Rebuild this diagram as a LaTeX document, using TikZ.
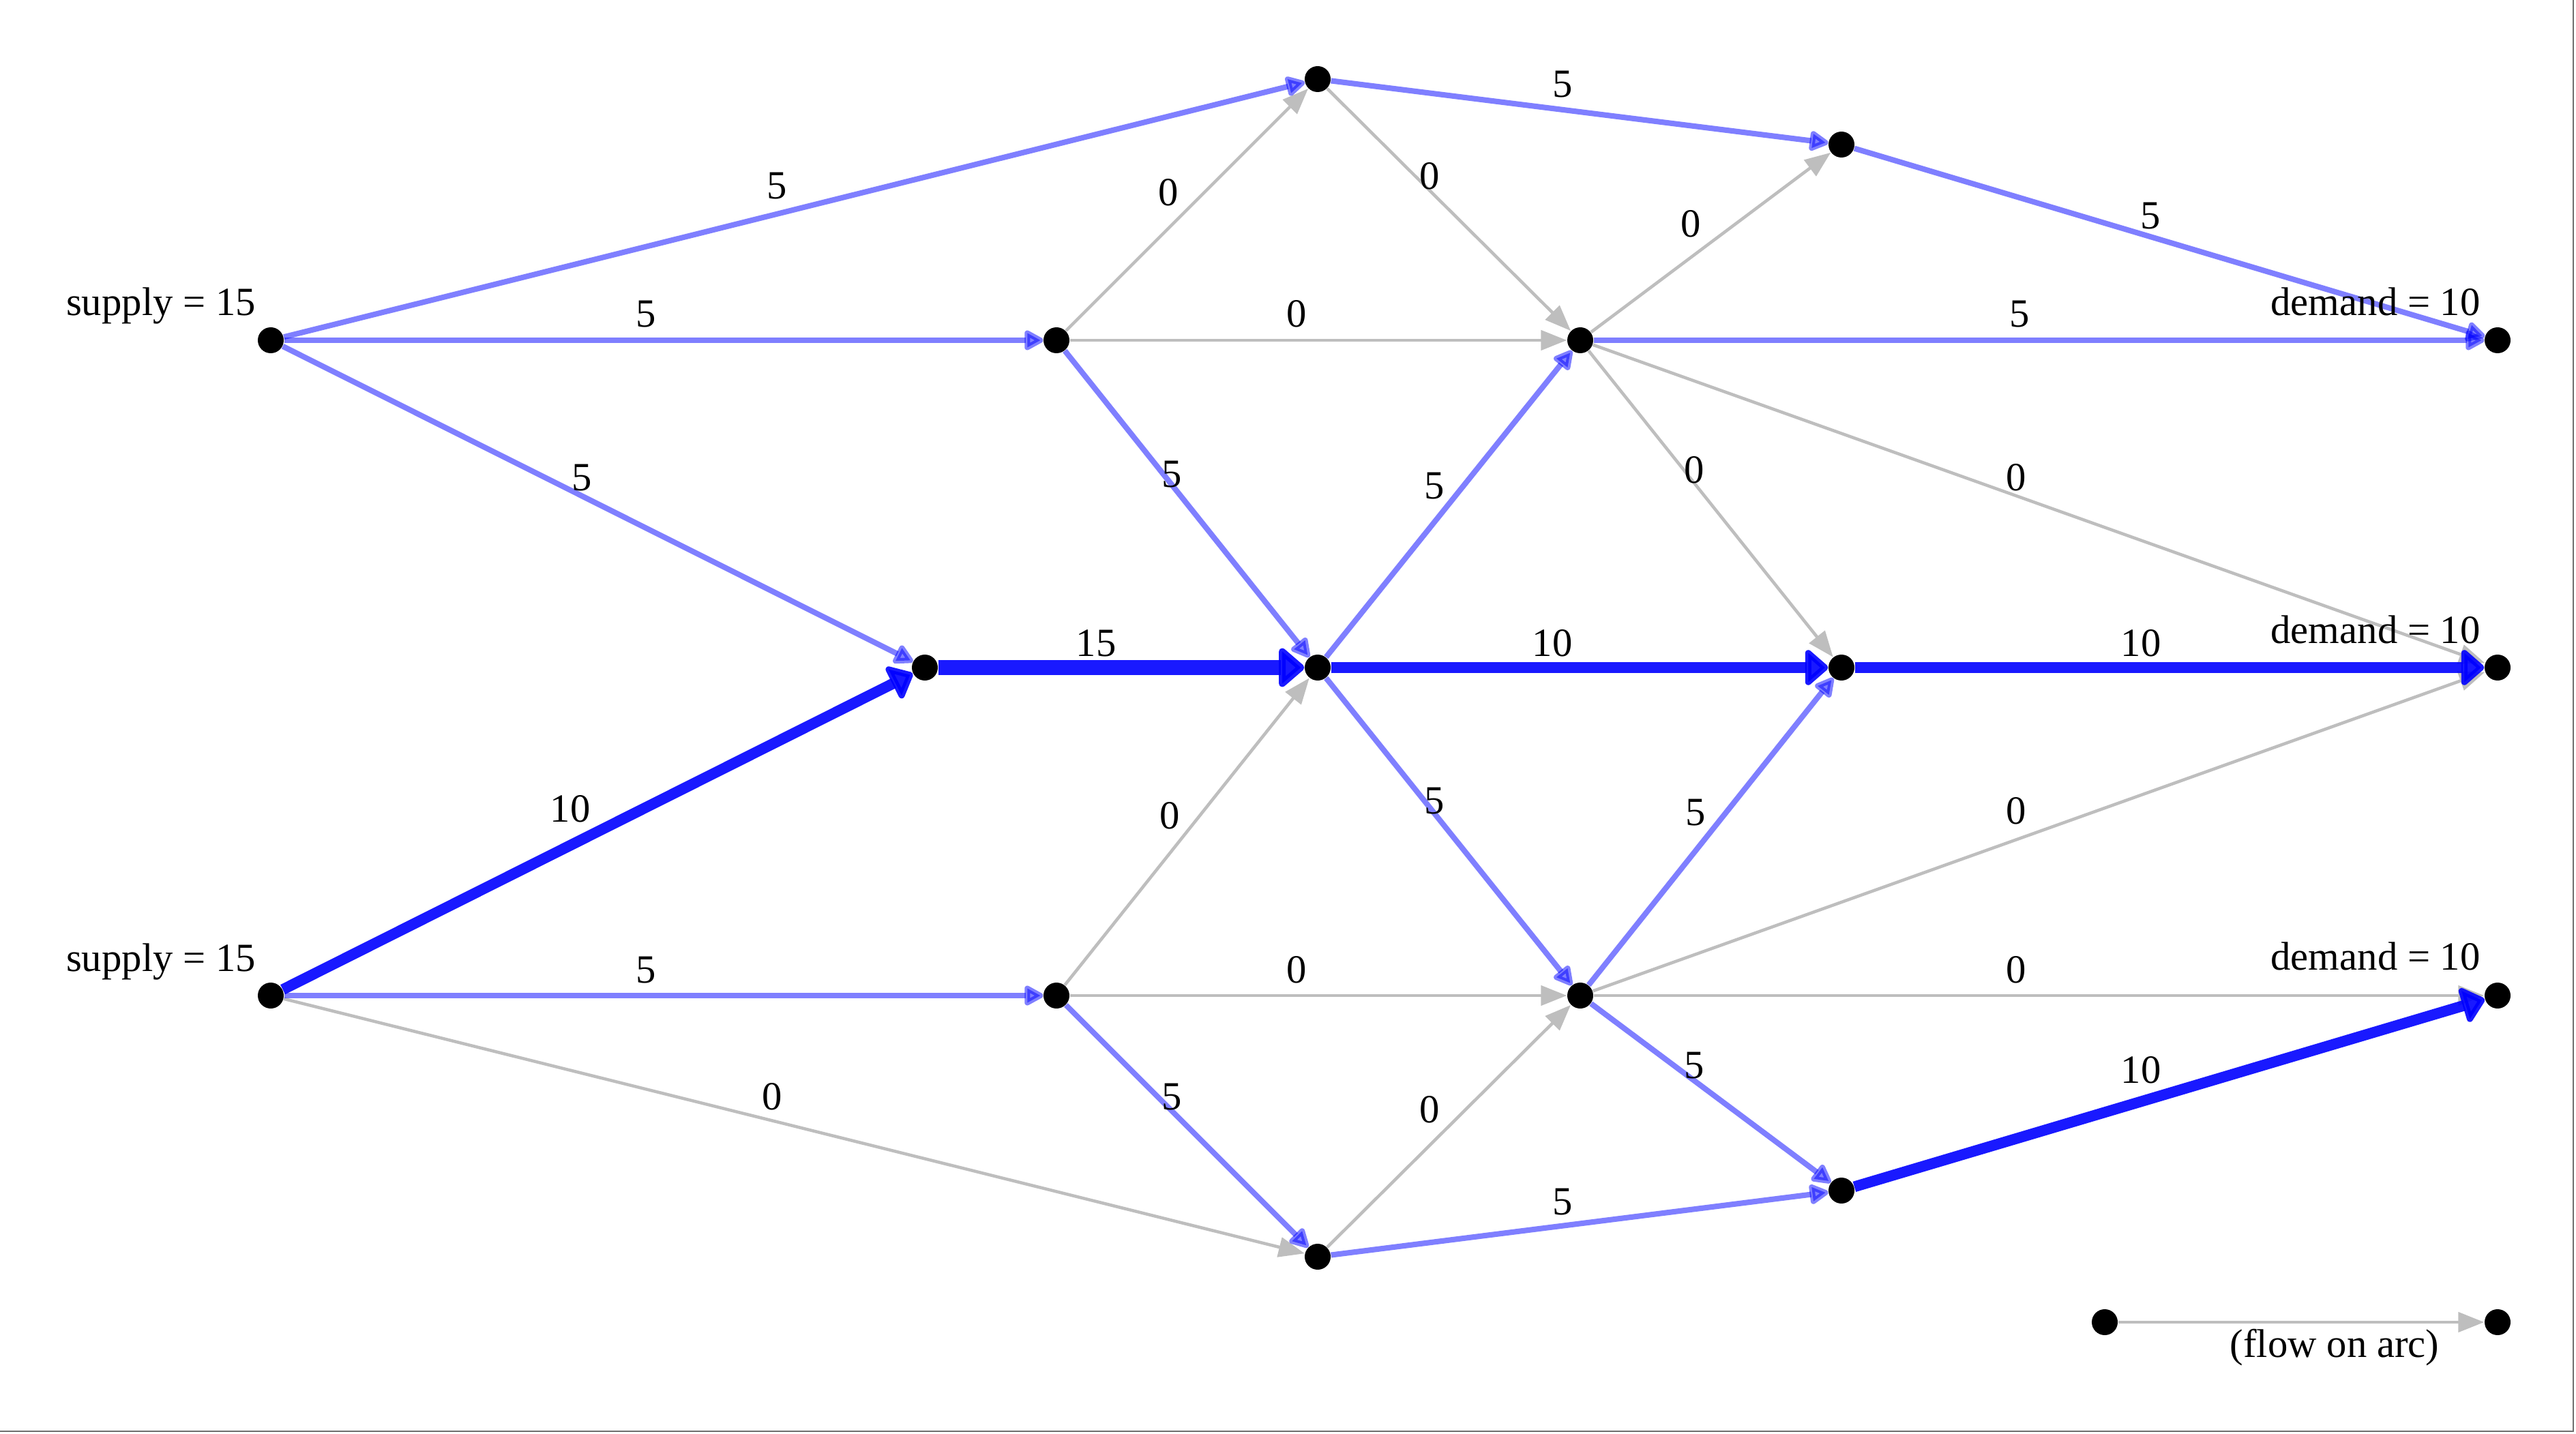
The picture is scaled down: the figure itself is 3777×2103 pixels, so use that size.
\documentclass[tikz,border=0pt]{standalone}
\usepackage{fontspec}
\setmainfont{Liberation Serif}
\usetikzlibrary{arrows.meta,backgrounds}
\definecolor{zgray}{RGB}{190,190,190}
\definecolor{framegray}{RGB}{110,110,110}
\begin{document}
\begin{tikzpicture}[x=0.1mm,y=-0.1mm,
  vtx/.style={circle,fill=black,inner sep=0pt,minimum size=3.8mm},
  lbl/.style={anchor=base,inner sep=0pt,font=\fontsize{16.7}{18}\selectfont},
  fzero/.style={draw=zgray,line width=1.3pt,-{Triangle[length=3.8mm,width=2.9mm]}},
  ffive/.style={draw=blue,opacity=0.5,line width=2.3pt,-{Triangle[round,length=3.2mm,width=3.2mm]}},
  ften/.style={draw=blue,opacity=0.9,line width=4.5pt,-{Triangle[round,length=3.6mm,width=6mm]}},
  ffifteen/.style={draw=blue,opacity=0.9,line width=6.5pt,-{Triangle[round,length=4mm,width=6.6mm]}}]
\useasboundingbox (0,0) rectangle (3777,2103);
\draw[framegray,line width=0.8pt] (3773,0) -- (3773,2099) -- (0,2099);

% vertices
\node[vtx] (S1) at (397,499) {};
\node[vtx] (S2) at (397,1460) {};
\node[vtx] (A) at (1932,116) {};
\node[vtx] (B) at (2700,212) {};
\node[vtx] (C) at (1549,499) {};
\node[vtx] (D) at (2317,499) {};
\node[vtx] (T1) at (3662,499) {};
\node[vtx] (M1) at (1356,979) {};
\node[vtx] (M2) at (1932,979) {};
\node[vtx] (M3) at (2700,979) {};
\node[vtx] (T2) at (3662,979) {};
\node[vtx] (E) at (1549,1460) {};
\node[vtx] (F) at (2317,1460) {};
\node[vtx] (T3) at (3662,1460) {};
\node[vtx] (G) at (2700,1746) {};
\node[vtx] (H) at (1932,1843) {};
\node[vtx] (L1) at (3086,1939) {};
\node[vtx] (L2) at (3662,1939) {};

\begin{pgfonlayer}{background}
% zero-flow arcs
\draw[fzero] (S2) -- (H);
\draw[fzero] (C) -- (A);
\draw[fzero] (C) -- (D);
\draw[fzero] (E) -- (M2);
\draw[fzero] (E) -- (F);
\draw[fzero] (A) -- (D);
\draw[fzero] (H) -- (F);
\draw[fzero] (D) -- (B);
\draw[fzero] (D) -- (M3);
\draw[fzero] (D) -- (T2);
\draw[fzero] (F) -- (T2);
\draw[fzero] (F) -- (T3);
\draw[fzero] (L1) -- (L2);
% flow 5
\draw[ffive] (S1) -- (A);
\draw[ffive] (S1) -- (C);
\draw[ffive] (S1) -- (M1);
\draw[ffive] (S2) -- (E);
\draw[ffive] (C) -- (M2);
\draw[ffive] (E) -- (H);
\draw[ffive] (A) -- (B);
\draw[ffive] (M2) -- (D);
\draw[ffive] (M2) -- (F);
\draw[ffive] (H) -- (G);
\draw[ffive] (D) -- (T1);
\draw[ffive] (F) -- (M3);
\draw[ffive] (F) -- (G);
\draw[ffive] (B) -- (T1);
% flow 10 and 15
\draw[ften] (S2) -- (M1);
\draw[ften] (M2) -- (M3);
\draw[ften] (M3) -- (T2);
\draw[ften] (G) -- (T3);
\draw[ffifteen] (M1) -- (M2);
\end{pgfonlayer}

% arc labels
\node[lbl] (l1) at (1139,292) {5};
\node[lbl] (l2) at (947,480) {5};
\node[lbl] (l3) at (853,719) {5};
\node[lbl] (l4) at (836,1205) {10};
\node[lbl] (l5) at (947,1441) {5};
\node[lbl] (l6) at (1132,1627) {0};
\node[lbl] (l7) at (1713,302) {0};
\node[lbl] (l8) at (1901,480) {0};
\node[lbl] (l9) at (1718,714) {5};
\node[lbl] (l10) at (1607,962) {15};
\node[lbl] (l11) at (1715,1215) {0};
\node[lbl] (l12) at (1901,1441) {0};
\node[lbl] (l13) at (1718,1627) {5};
\node[lbl] (l14) at (2291,143) {5};
\node[lbl] (l15) at (2096,278) {0};
\node[lbl] (l16) at (2103,731) {5};
\node[lbl] (l17) at (2276,962) {10};
\node[lbl] (l18) at (2103,1193) {5};
\node[lbl] (l19) at (2096,1646) {0};
\node[lbl] (l20) at (2291,1781) {5};
\node[lbl] (l21) at (2479,348) {0};
\node[lbl] (l22) at (2961,480) {5};
\node[lbl] (l23) at (2484,709) {0};
\node[lbl] (l24) at (2956,719) {0};
\node[lbl] (l25) at (2486,1210) {5};
\node[lbl] (l26) at (2956,1208) {0};
\node[lbl] (l27) at (2956,1441) {0};
\node[lbl] (l28) at (2484,1581) {5};
\node[lbl] (l29) at (3153,336) {5};
\node[lbl] (l30) at (3139,962) {10};
\node[lbl] (l31) at (3139,1588) {10};

% supply / demand labels
\node[lbl] (sup1) at (236,463) {supply = 15};
\node[lbl] (sup2) at (236,1424) {supply = 15};
\node[lbl] (dem1) at (3483,463) {demand = 10};
\node[lbl] (dem2) at (3483,943) {demand = 10};
\node[lbl] (dem3) at (3483,1422) {demand = 10};
\node[lbl] (leg) at (3423,1990) {(flow on arc)};
\end{tikzpicture}
\end{document}
